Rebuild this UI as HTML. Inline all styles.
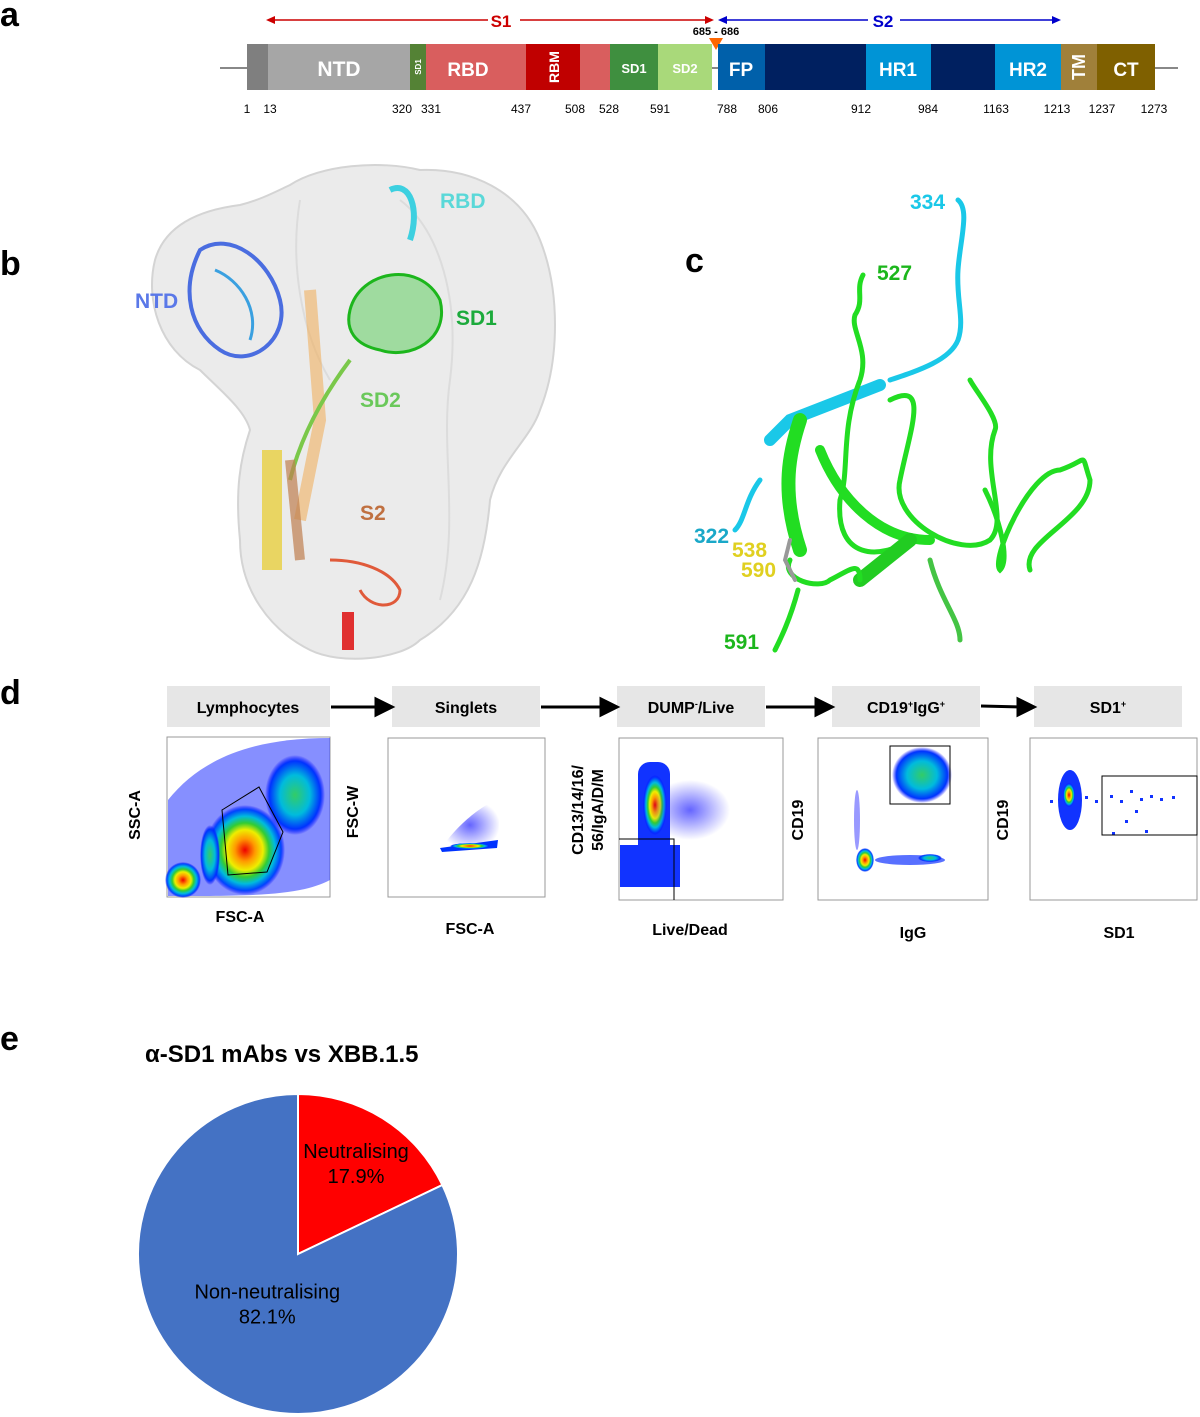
<!DOCTYPE html>
<html><head><meta charset="utf-8"><style>
html,body{margin:0;padding:0;background:#fff;}
svg{display:block;font-family:"Liberation Sans",Arial,sans-serif;}
.pl{font-weight:bold;font-size:34px;}
.num{font-size:12px;}
.hdr{font-weight:bold;font-size:16px;}
.ax{font-weight:bold;font-size:16px;}
</style></head><body>
<svg id="fig" width="1200" height="1417" viewBox="0 0 1200 1417">
<defs>
<radialGradient id="dens" cx="50%" cy="50%" r="50%">
<stop offset="0" stop-color="#e00"/><stop offset="0.25" stop-color="#f90"/><stop offset="0.45" stop-color="#ee0"/><stop offset="0.6" stop-color="#3c3"/><stop offset="0.75" stop-color="#0bd"/><stop offset="0.9" stop-color="#04f"/><stop offset="1" stop-color="#00f" stop-opacity="0"/>
</radialGradient>
<radialGradient id="dens2" cx="50%" cy="50%" r="50%">
<stop offset="0" stop-color="#3c6"/><stop offset="0.5" stop-color="#0bd"/><stop offset="0.85" stop-color="#03f"/><stop offset="1" stop-color="#00f" stop-opacity="0"/>
</radialGradient>
<radialGradient id="scat" cx="50%" cy="50%" r="50%">
<stop offset="0" stop-color="#22f" stop-opacity="0.7"/><stop offset="1" stop-color="#22f" stop-opacity="0"/>
</radialGradient>
</defs>

<!-- Panel a -->
<text class="pl" x="0" y="26">a</text>
<g>
<line x1="272" y1="20" x2="488" y2="20" stroke="#c00" stroke-width="1.5"/><line x1="520" y1="20" x2="708" y2="20" stroke="#c00" stroke-width="1.5"/>
<polygon points="266,20 275,16 275,24" fill="#c00"/><polygon points="714,20 705,16 705,24" fill="#c00"/>
<text x="501" y="27" font-size="17" font-weight="bold" fill="#c00" text-anchor="middle">S1</text>
</g>
<g>
<line x1="724" y1="20" x2="868" y2="20" stroke="#00c" stroke-width="1.5"/><line x1="900" y1="20" x2="1055" y2="20" stroke="#00c" stroke-width="1.5"/>
<polygon points="718,20 727,16 727,24" fill="#00c"/><polygon points="1061,20 1052,16 1052,24" fill="#00c"/>
<text x="883" y="27" font-size="17" font-weight="bold" fill="#00c" text-anchor="middle">S2</text>
</g>
<text x="716" y="35" font-size="11" font-weight="bold" text-anchor="middle">685 - 686</text>
<polygon points="709,38 723,38 716,50" fill="#f60"/>
<line x1="220" y1="68" x2="1178" y2="68" stroke="#888" stroke-width="2"/>
<g font-weight="bold" fill="#fff">
<rect x="247" y="44" width="21" height="46" fill="#7f7f7f"/>
<rect x="268" y="44" width="142" height="46" fill="#a6a6a6"/><text x="339" y="76" font-size="21" text-anchor="middle">NTD</text>
<rect x="410" y="44" width="16" height="46" fill="#548235"/><text x="421" y="67" font-size="8" text-anchor="middle" transform="rotate(-90 421 67)">SD1</text>
<rect x="426" y="44" width="100" height="46" fill="#d95e5e"/><text x="468" y="76" font-size="19" text-anchor="middle">RBD</text>
<rect x="526" y="44" width="54" height="46" fill="#c00000"/><text x="559" y="67" font-size="14" text-anchor="middle" transform="rotate(-90 559 67)">RBM</text>
<rect x="580" y="44" width="30" height="46" fill="#d95e5e"/>
<rect x="610" y="44" width="48" height="46" fill="#3f8f3f"/><text x="634" y="73" font-size="13" text-anchor="middle">SD1</text>
<rect x="658" y="44" width="54" height="46" fill="#a9d97a"/><text x="685" y="73" font-size="13" text-anchor="middle">SD2</text>
<rect x="718" y="44" width="47" height="46" fill="#0060aa"/><text x="741" y="76" font-size="19" text-anchor="middle">FP</text>
<rect x="765" y="44" width="101" height="46" fill="#002060"/>
<rect x="866" y="44" width="65" height="46" fill="#0094d6"/><text x="898" y="76" font-size="19" text-anchor="middle">HR1</text>
<rect x="931" y="44" width="64" height="46" fill="#002060"/>
<rect x="995" y="44" width="66" height="46" fill="#0094d6"/><text x="1028" y="76" font-size="19" text-anchor="middle">HR2</text>
<rect x="1061" y="44" width="36" height="46" fill="#a0803a"/><text x="1079" y="67" font-size="18" text-anchor="middle" transform="rotate(-90 1079 67)" dy="6">TM</text>
<rect x="1097" y="44" width="58" height="46" fill="#7f6000"/><text x="1126" y="76" font-size="19" text-anchor="middle">CT</text>
</g>
<g class="num" text-anchor="middle">
<text x="247" y="113">1</text><text x="270" y="113">13</text><text x="402" y="113">320</text><text x="431" y="113">331</text><text x="521" y="113">437</text><text x="575" y="113">508</text><text x="609" y="113">528</text><text x="660" y="113">591</text><text x="727" y="113">788</text><text x="768" y="113">806</text><text x="861" y="113">912</text><text x="928" y="113">984</text><text x="996" y="113">1163</text><text x="1057" y="113">1213</text><text x="1102" y="113">1237</text><text x="1154" y="113">1273</text>
</g>

<!-- Panel b -->
<text class="pl" x="0" y="275">b</text>
<g>
<path d="M290,185 C320,165 380,160 420,170 C470,168 520,190 540,240 C560,290 560,360 540,410 C530,440 500,460 490,500 C485,560 470,610 420,640 C400,660 340,665 310,650 C270,630 240,590 240,540 C235,490 240,460 250,430 C245,410 220,390 200,370 C160,350 145,300 155,260 C165,225 200,210 240,205 C260,200 275,192 290,185Z" fill="#ebebeb" stroke="#d4d4d4" stroke-width="2"/>
<path d="M400,200 C440,230 460,300 450,380 C440,450 460,520 440,600" fill="none" stroke="#dcdcdc" stroke-width="2"/>
<path d="M300,200 C290,260 300,330 330,380" fill="none" stroke="#dcdcdc" stroke-width="2"/>
<path d="M200,250 C230,230 270,260 280,300 C290,340 250,370 220,350 C190,330 180,290 200,250Z" fill="none" stroke="#4a6de0" stroke-width="4"/>
<path d="M215,270 C240,280 260,310 250,340" fill="none" stroke="#3aa0e0" stroke-width="3"/>
<path d="M390,190 C410,180 420,210 410,240" fill="none" stroke="#3dd0e0" stroke-width="6"/>
<path d="M350,310 C360,270 420,260 440,300 C450,340 410,360 380,350 C355,345 345,330 350,310Z" fill="#43c843" fill-opacity="0.45" stroke="#1cb61c" stroke-width="3"/>
<path d="M310,290 L320,420 L300,520" fill="none" stroke="#f0b060" stroke-width="12" opacity="0.6"/>
<path d="M350,360 C320,400 300,440 290,480" fill="none" stroke="#7ac84a" stroke-width="4"/>
<rect x="262" y="450" width="20" height="120" fill="#e8d040" opacity="0.8"/>
<path d="M290,460 L300,560" stroke="#c08050" stroke-width="10" opacity="0.7"/>
<path d="M330,560 C360,560 390,570 400,590 C400,610 370,610 360,590" fill="none" stroke="#e05a3a" stroke-width="3"/>
<rect x="342" y="612" width="12" height="38" fill="#e03030"/>
<text x="440" y="208" font-size="21" font-weight="bold" fill="#5ad8d8">RBD</text>
<text x="135" y="308" font-size="21" font-weight="bold" fill="#5a78e8">NTD</text>
<text x="456" y="325" font-size="21" font-weight="bold" fill="#1caa3c">SD1</text>
<text x="360" y="407" font-size="21" font-weight="bold" fill="#6ac85a">SD2</text>
<text x="360" y="520" font-size="21" font-weight="bold" fill="#c07040">S2</text>
</g>

<!-- Panel c -->
<text class="pl" x="685" y="272">c</text>
<g fill="none" stroke-linecap="round">
<path d="M958,200 C970,210 960,240 958,270 C956,300 965,320 958,340 C950,360 920,370 890,380" stroke="#1ac8e8" stroke-width="5"/>
<path d="M880,385 L790,420 L770,440" stroke="#1ac8e8" stroke-width="12"/>
<path d="M760,480 C745,500 745,520 735,530" stroke="#1ac8e8" stroke-width="5"/>
<path d="M863,275 C855,290 865,300 855,315 C850,330 870,350 860,380 C840,430 850,470 840,500 C835,560 880,560 910,540" stroke="#22dd22" stroke-width="5"/>
<path d="M800,420 C790,450 780,490 800,550" stroke="#22dd22" stroke-width="14"/>
<path d="M820,450 C840,500 880,540 930,540" stroke="#22dd22" stroke-width="10"/>
<path d="M890,400 C930,380 910,430 900,480 C890,520 960,560 990,540 C1010,520 980,470 995,430 C1000,420 975,390 970,380" stroke="#22dd22" stroke-width="5"/>
<path d="M985,490 C1000,520 1010,560 1000,570 C990,560 1030,470 1060,470 C1090,460 1080,450 1090,480 C1090,520 1020,540 1030,570" stroke="#22dd22" stroke-width="5"/>
<path d="M930,560 C940,600 960,620 960,640" stroke="#44c444" stroke-width="5"/>
<path d="M910,540 L860,580" stroke="#22cc22" stroke-width="14"/>
<path d="M790,560 C780,580 820,590 830,580 C850,570 860,560 860,580" stroke="#22dd22" stroke-width="5"/>
<path d="M798,590 C790,620 780,640 775,650" stroke="#22dd22" stroke-width="5"/>
<path d="M790,540 L785,560 L795,580" stroke="#999" stroke-width="4"/>
</g>
<text x="910" y="209" font-size="21" font-weight="bold" fill="#1ac8e8">334</text>
<text x="877" y="280" font-size="21" font-weight="bold" fill="#1cb61c">527</text>
<text x="694" y="543" font-size="21" font-weight="bold" fill="#1aa8c8">322</text>
<text x="732" y="557" font-size="21" font-weight="bold" fill="#e0d020">538</text>
<text x="741" y="577" font-size="21" font-weight="bold" fill="#e0d020">590</text>
<text x="724" y="649" font-size="21" font-weight="bold" fill="#1cb61c">591</text>

<!-- Panel d -->
<text class="pl" x="0" y="704">d</text>
<g>
<rect x="167" y="686" width="163" height="41" fill="#e6e6e6"/><text class="hdr" x="248" y="713" text-anchor="middle">Lymphocytes</text>
<rect x="392" y="686" width="148" height="41" fill="#e6e6e6"/><text class="hdr" x="466" y="713" text-anchor="middle">Singlets</text>
<rect x="617" y="686" width="148" height="41" fill="#e6e6e6"/><text class="hdr" x="691" y="713" text-anchor="middle">DUMP<tspan font-size="9" dy="-6">-</tspan><tspan dy="6">/Live</tspan></text>
<rect x="832" y="686" width="148" height="41" fill="#e6e6e6"/><text class="hdr" x="906" y="713" text-anchor="middle">CD19<tspan font-size="9" dy="-6">+</tspan><tspan dy="6">IgG</tspan><tspan font-size="9" dy="-6">+</tspan></text>
<rect x="1034" y="686" width="148" height="41" fill="#e6e6e6"/><text class="hdr" x="1108" y="713" text-anchor="middle">SD1<tspan font-size="9" dy="-6">+</tspan></text>
</g>
<g stroke="#000" stroke-width="3" fill="#000">
<line x1="331" y1="707" x2="378" y2="707"/><polygon points="392,707 376,699 376,715"/>
<line x1="541" y1="707" x2="603" y2="707"/><polygon points="617,707 601,699 601,715"/>
<line x1="766" y1="707" x2="818" y2="707"/><polygon points="832,707 816,699 816,715"/>
<line x1="981" y1="706" x2="1020" y2="707"/><polygon points="1034,707 1018,699 1018,715"/>
</g>

<g>
<rect x="167" y="737" width="163" height="160" fill="#fff" stroke="#999"/>
<path d="M168,896 L168,800 C200,760 250,738 330,738 L330,880 C300,896 250,896 168,896Z" fill="#2233ff" opacity="0.55"/>
<ellipse cx="295" cy="795" rx="30" ry="40" fill="url(#dens2)"/>
<ellipse cx="245" cy="850" rx="40" ry="45" fill="url(#dens)"/>
<ellipse cx="183" cy="880" rx="18" ry="18" fill="url(#dens)"/>
<ellipse cx="210" cy="855" rx="10" ry="30" fill="url(#dens2)"/>
<polygon points="222,810 259,787 283,832 267,872 228,875" fill="none" stroke="#000" stroke-width="1"/>
<text class="ax" x="140" y="815" text-anchor="middle" transform="rotate(-90 140 815)">SSC-A</text>
<text class="ax" x="240" y="922" text-anchor="middle">FSC-A</text>
</g>
<g>
<rect x="388" y="738" width="157" height="159" fill="#fff" stroke="#999"/>
<path d="M440,850 C460,820 490,800 500,800 L498,845 L445,850Z" fill="url(#scat)"/>
<polygon points="440,848 498,840 497,848 442,852" fill="#0033ff"/>
<ellipse cx="470" cy="846" rx="20" ry="3" fill="url(#dens)"/>
<text class="ax" x="358" y="812" text-anchor="middle" transform="rotate(-90 358 812)">FSC-W</text>
<text class="ax" x="470" y="934" text-anchor="middle">FSC-A</text>
</g>
<g>
<rect x="619" y="738" width="164" height="162" fill="#fff" stroke="#999"/>
<rect x="638" y="762" width="32" height="120" rx="12" fill="#1133ff"/>
<ellipse cx="655" cy="805" rx="12" ry="30" fill="url(#dens)"/>
<rect x="620" y="845" width="60" height="42" fill="#1133ff"/>
<ellipse cx="690" cy="810" rx="40" ry="30" fill="url(#scat)"/>
<polyline points="619,839 674,839 674,900" fill="none" stroke="#000" stroke-width="1"/>
<text class="ax" x="583" y="810" text-anchor="middle" transform="rotate(-90 583 810)"><tspan x="583">CD13/14/16/</tspan><tspan x="583" dy="20">56/IgA/D/M</tspan></text>
<text class="ax" x="690" y="935" text-anchor="middle">Live/Dead</text>
</g>
<g>
<rect x="818" y="738" width="170" height="162" fill="#fff" stroke="#999"/>
<ellipse cx="922" cy="775" rx="30" ry="28" fill="url(#dens2)"/>
<ellipse cx="865" cy="860" rx="9" ry="12" fill="url(#dens)"/>
<ellipse cx="910" cy="860" rx="35" ry="5" fill="#1133ff" opacity="0.7"/>
<ellipse cx="930" cy="858" rx="12" ry="4" fill="url(#dens2)"/>
<ellipse cx="857" cy="820" rx="3" ry="30" fill="#33f" opacity="0.5"/>
<rect x="890" y="746" width="60" height="58" fill="none" stroke="#000"/>
<text class="ax" x="803" y="820" text-anchor="middle" transform="rotate(-90 803 820)">CD19</text>
<text class="ax" x="913" y="938" text-anchor="middle">IgG</text>
</g>
<g>
<rect x="1030" y="738" width="167" height="162" fill="#fff" stroke="#999"/>
<ellipse cx="1070" cy="800" rx="12" ry="30" fill="#1133ff"/>
<ellipse cx="1069" cy="795" rx="6" ry="12" fill="url(#dens)"/>
<g fill="#1133ff">
<rect x="1085" y="796" width="3" height="3"/><rect x="1095" y="800" width="3" height="3"/><rect x="1110" y="795" width="3" height="3"/><rect x="1120" y="800" width="3" height="3"/><rect x="1130" y="790" width="3" height="3"/><rect x="1140" y="798" width="3" height="3"/><rect x="1150" y="795" width="3" height="3"/><rect x="1160" y="798" width="3" height="3"/><rect x="1172" y="796" width="3" height="3"/><rect x="1125" y="820" width="3" height="3"/><rect x="1145" y="830" width="3" height="3"/><rect x="1135" y="810" width="3" height="3"/><rect x="1112" y="832" width="3" height="3"/><rect x="1050" y="800" width="3" height="3"/>
</g>
<rect x="1102" y="776" width="95" height="59" fill="none" stroke="#000"/>
<text class="ax" x="1008" y="820" text-anchor="middle" transform="rotate(-90 1008 820)">CD19</text>
<text class="ax" x="1119" y="938" text-anchor="middle">SD1</text>
</g>

<!-- Panel e -->
<text class="pl" x="0" y="1050">e</text>
<text x="145" y="1062" font-size="24" font-weight="bold">α-SD1 mAbs vs XBB.1.5</text>
<g id="pie"></g>
</svg>
<script>
const pieLabels = ["Neutralising", "Non-neutralising"];
const pieValues = [17.9, 82.1];
const pieColors = ["#ff0000", "#4472c4"];
const cx = 298, cy = 1254, r = 160;
const g = document.getElementById('pie');
const ns = 'http://www.w3.org/2000/svg';
const total = pieValues.reduce((a, b) => a + b, 0);
let start = 0;
pieValues.forEach((v, i) => {
  const a0 = start / total * 2 * Math.PI, a1 = (start + v) / total * 2 * Math.PI;
  const x0 = cx + r * Math.sin(a0), y0 = cy - r * Math.cos(a0);
  const x1 = cx + r * Math.sin(a1), y1 = cy - r * Math.cos(a1);
  const large = (a1 - a0) > Math.PI ? 1 : 0;
  const p = document.createElementNS(ns, 'path');
  p.setAttribute('d', `M${cx},${cy} L${x0},${y0} A${r},${r} 0 ${large} 1 ${x1},${y1} Z`);
  p.setAttribute('fill', pieColors[i]);
  p.setAttribute('stroke', '#fff');
  p.setAttribute('stroke-width', '2');
  
  
  g.appendChild(p);
  const mid = (a0 + a1) / 2;
  const lr = i === 0 ? 0.68 * r : 0.36 * r;
  const lx = cx + lr * Math.sin(mid), ly = cy - lr * Math.cos(mid);
  const t = document.createElementNS(ns, 'text');
  t.setAttribute('text-anchor', 'middle');
  t.setAttribute('font-size', '20');
  
  
  const s1 = document.createElementNS(ns, 'tspan');
  s1.setAttribute('x', lx); s1.setAttribute('y', ly - 4);
  s1.textContent = pieLabels[i];
  const s2 = document.createElementNS(ns, 'tspan');
  s2.setAttribute('x', lx); s2.setAttribute('y', ly + 21);
  s2.textContent = v.toFixed(1) + '%';
  t.appendChild(s1); t.appendChild(s2);
  g.appendChild(t);
  start += v;
});
</script>
</body></html>
